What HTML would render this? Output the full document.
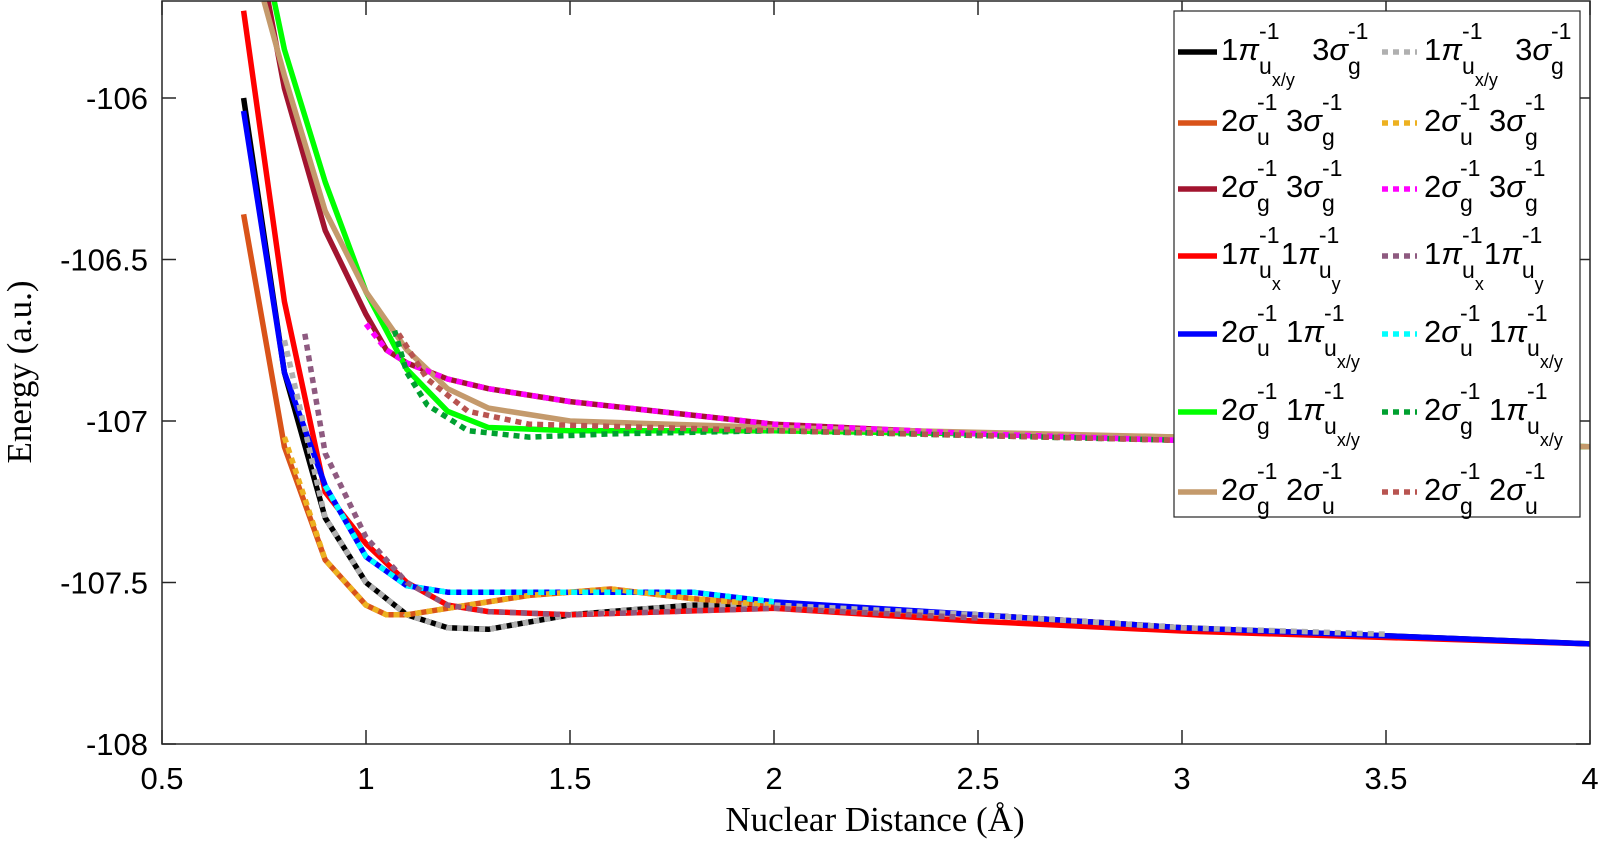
<!DOCTYPE html>
<html><head><meta charset="utf-8"><style>
body{margin:0;background:#fff;width:1600px;height:842px;overflow:hidden;position:relative;font-family:"Liberation Sans",sans-serif}
svg{position:absolute;left:0;top:0}
.lg{position:absolute;font-size:31px;color:#000;white-space:nowrap;line-height:1}
.st{display:inline-grid;vertical-align:baseline}
.st>span{grid-area:1/1;position:relative;font-size:23px}
.sp{top:-21px}.sb{top:14px}
.ssb{font-size:18px;position:relative;top:12px}
.it{font-style:italic}
</style></head><body>
<svg width="1600" height="842" id="s" xmlns="http://www.w3.org/2000/svg"></svg>
<div id="L"></div>
<script>
const X=x=>162+(x-0.5)*408, Y=y=>98+(-106-y)*323;
const S=[
['#000','',[[0.7,-106.0],[0.8,-106.85],[0.9,-107.3],[1.0,-107.5],[1.1,-107.6],[1.2,-107.64],[1.3,-107.645],[1.5,-107.6],[1.8,-107.57],[2,-107.57],[2.5,-107.6],[3,-107.64],[4,-107.69]]],
['#D95319','',[[0.7,-106.36],[0.8,-107.08],[0.9,-107.43],[1.0,-107.57],[1.05,-107.6],[1.1,-107.6],[1.2,-107.58],[1.4,-107.54],[1.6,-107.52],[1.8,-107.55],[2,-107.57],[2.5,-107.6],[3,-107.64]]],
['#A2142F','',[[0.76,-105.7],[0.8,-105.97],[0.9,-106.41],[1.0,-106.67],[1.05,-106.78],[1.1,-106.82],[1.2,-106.87],[1.3,-106.9],[1.5,-106.94],[2,-107.01],[2.5,-107.04],[3,-107.06],[3.5,-107.07],[4,-107.08]]],
['#00FF00','',[[0.775,-105.7],[0.8,-105.85],[0.9,-106.26],[1.0,-106.6],[1.1,-106.84],[1.2,-106.97],[1.3,-107.02],[1.5,-107.03],[2,-107.03],[3,-107.05],[4,-107.08]]],
['#C49A6C','',[[0.75,-105.7],[0.8,-105.93],[0.9,-106.35],[1.0,-106.6],[1.1,-106.78],[1.2,-106.9],[1.3,-106.96],[1.5,-107.0],[2,-107.02],[3,-107.05],[4,-107.08]]],
['#FF00FF','d',[[1.0,-106.7],[1.05,-106.78],[1.1,-106.82],[1.2,-106.87],[1.3,-106.9],[1.5,-106.94],[2,-107.01],[2.5,-107.04],[3,-107.06],[3.5,-107.07]]],
['#00A030','d',[[1.07,-106.72],[1.1,-106.85],[1.15,-106.95],[1.25,-107.03],[1.4,-107.05],[1.6,-107.04],[2,-107.03],[3,-107.06]]],
['#B85450','d',[[1.08,-106.73],[1.15,-106.87],[1.25,-106.97],[1.4,-107.01],[2,-107.03],[3,-107.06]]],
['#FF0000','',[[0.7,-105.73],[0.8,-106.63],[0.9,-107.22],[1.0,-107.38],[1.1,-107.5],[1.2,-107.57],[1.3,-107.59],[1.5,-107.6],[2,-107.58],[2.5,-107.62],[3,-107.65],[4,-107.69]]],
['#0000FF','',[[0.7,-106.04],[0.8,-106.85],[0.9,-107.2],[1.0,-107.42],[1.1,-107.51],[1.2,-107.53],[1.5,-107.53],[1.8,-107.53],[2,-107.56],[2.5,-107.6],[3,-107.64],[4,-107.69]]],
['#B0B0B0','d',[[0.8,-106.75],[0.9,-107.3],[1.0,-107.5],[1.1,-107.6],[1.2,-107.64],[1.3,-107.645],[1.5,-107.6],[1.8,-107.57],[2,-107.57],[2.5,-107.6],[3,-107.64],[3.5,-107.66]]],
['#EDB120','d',[[0.8,-107.05],[0.9,-107.43],[1.0,-107.57],[1.05,-107.6],[1.1,-107.6],[1.2,-107.58],[1.4,-107.54],[1.6,-107.52],[1.8,-107.55],[2,-107.57]]],
['#00FFFF','d',[[0.9,-107.2],[1.0,-107.42],[1.1,-107.51],[1.2,-107.53],[1.5,-107.53],[1.8,-107.53],[2,-107.56]]],
['#8E5A80','d',[[0.85,-106.73],[0.9,-107.1],[1.0,-107.36],[1.1,-107.5],[1.2,-107.57],[1.3,-107.59],[1.5,-107.6],[2,-107.58],[2.5,-107.61]]]
];
let h='<defs><clipPath id="c"><rect x="162" y="0" width="1428" height="744"/></clipPath></defs><g clip-path="url(#c)" fill="none" stroke-width="5.5" stroke-linejoin="round">';
for(const [c,d,p] of S){h+=`<polyline stroke="${c}" ${d?'stroke-dasharray="6 5"':''} points="${p.map(q=>X(q[0]).toFixed(1)+','+Y(q[1]).toFixed(1)).join(' ')}"/>`;}
h+='</g><rect x="162" y="1" width="1428" height="743" fill="none" stroke="#262626" stroke-width="1.5"/>';
for(let i=0;i<8;i++){const v=0.5+i*0.5,x=X(v);h+=`<line x1="${x}" y1="744" x2="${x}" y2="730" stroke="#262626" stroke-width="1.5"/><line x1="${x}" y1="1" x2="${x}" y2="15" stroke="#262626" stroke-width="1.5"/><text x="${x}" y="789" font-size="31" text-anchor="middle" font-family="Liberation Sans">${v}</text>`;}
for(let i=0;i<5;i++){const v=-106-i*0.5,y=Y(v);h+=`<line x1="162" y1="${y}" x2="176" y2="${y}" stroke="#262626" stroke-width="1.5"/><line x1="1590" y1="${y}" x2="1576" y2="${y}" stroke="#262626" stroke-width="1.5"/><text x="148" y="${y+11}" font-size="31" text-anchor="end" font-family="Liberation Sans">${v}</text>`;}
h+='<text x="875" y="831" font-size="35" text-anchor="middle" font-family="Liberation Serif">Nuclear Distance (Å)</text>';
h+='<text transform="translate(31,372) rotate(-90)" font-size="35" text-anchor="middle" font-family="Liberation Serif">Energy (a.u.)</text>';
h+='<rect x="1174" y="11" width="406" height="506" fill="#fff" stroke="#262626" stroke-width="1.2"/>';
const R=[52,123,189,256,334,412,492];
const cols=[['#000','#B0B0B0'],['#D95319','#EDB120'],['#A2142F','#FF00FF'],['#FF0000','#8E5A80'],['#0000FF','#00FFFF'],['#00FF00','#00A030'],['#C49A6C','#B85450']];
R.forEach((y,i)=>{h+=`<line x1="1178" x2="1217" y1="${y}" y2="${y}" stroke="${cols[i][0]}" stroke-width="5.5"/><line x1="1382" x2="1417" y1="${y}" y2="${y}" stroke="${cols[i][1]}" stroke-width="5.5" stroke-dasharray="6 5"/>`;});
document.getElementById('s').innerHTML=h;
const t=(n,g,s,ss)=>`${n}<span class="it">${g}</span><span class="st"><span class="sp">-1</span><span class="sb">${s}${ss?'<span class="ssb">'+ss+'</span>':''}</span></span>`;
const labs=[
t('1','π','u','x/y')+'&nbsp; '+t('3','σ','g'),
t('2','σ','u')+'&nbsp;'+t('3','σ','g'),
t('2','σ','g')+'&nbsp;'+t('3','σ','g'),
t('1','π','u','x')+t('1','π','u','y'),
t('2','σ','u')+'&nbsp;'+t('1','π','u','x/y'),
t('2','σ','g')+'&nbsp;'+t('1','π','u','x/y'),
t('2','σ','g')+'&nbsp;'+t('2','σ','u')];
let L='';
R.forEach((y,i)=>{L+=`<div class="lg" style="left:1221px;top:${y-18}px">${labs[i]}</div><div class="lg" style="left:1424px;top:${y-18}px">${labs[i]}</div>`;});
document.getElementById('L').innerHTML=L;
</script>
</body></html>
